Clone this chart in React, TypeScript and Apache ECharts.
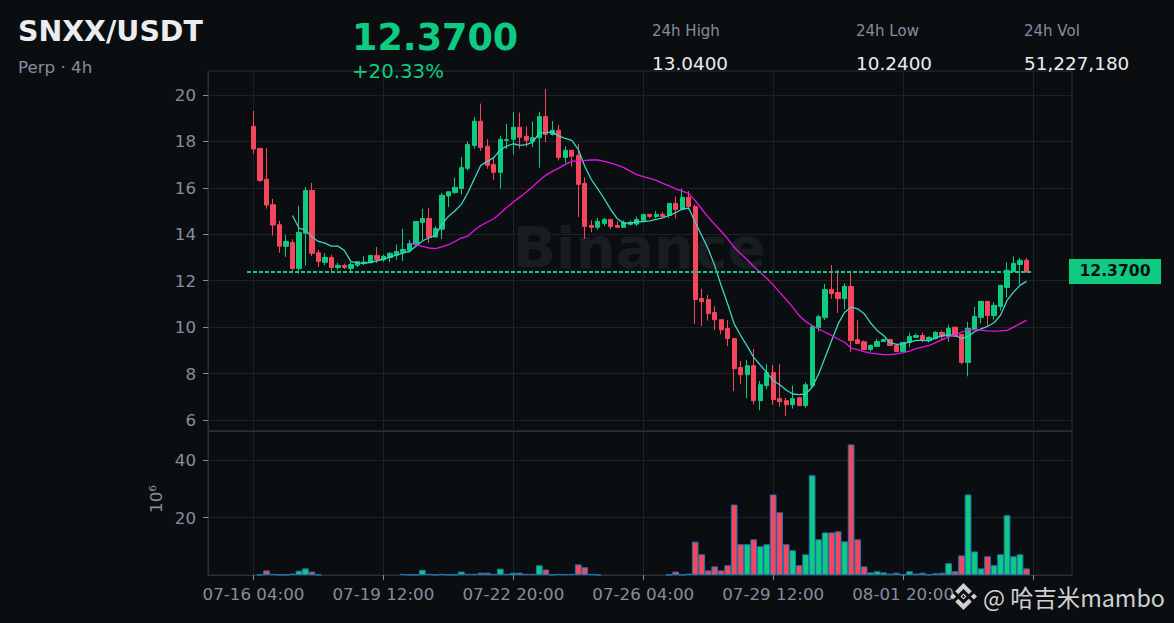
import React, { useEffect, useRef } from "react";
import * as echarts from "echarts";

const OPEN = [18.65,17.7,16.37,15.27,14.41,13.48,13.65,12.53,14.05,15.89,13.2,12.79,13.0,12.57,12.66,12.53,12.67,12.74,12.77,13.09,12.9,13.0,13.1,13.22,13.3,13.56,14.51,14.68,13.88,14.22,15.65,15.8,
15.97,16.84,17.83,18.87,17.79,17.01,16.67,18.05,18.09,18.61,18.22,18.0,18.16,19.07,18.3,18.48,17.31,17.62,17.4,16.19,14.38,14.3,14.47,14.64,14.38,14.3,14.43,14.44,14.6,14.86,14.77,14.86,14.81,15.33,15.07,15.59,
15.2,11.23,11.19,10.63,10.32,9.94,9.51,8.26,7.95,8.34,6.83,7.48,8.04,6.92,6.83,6.66,6.96,6.62,7.48,9.98,10.41,11.62,11.49,11.23,11.75,9.46,
9.37,9.04,9.17,9.38,9.47,9.21,8.95,9.34,9.56,9.64,9.43,9.51,9.77,9.6,10.0,9.69,8.48,9.9,10.42,11.11,10.5,10.89,11.71,12.4,12.7,12.88];
const CLOSE = [17.67,16.32,15.26,14.4,13.49,13.69,12.53,14.08,15.89,13.18,12.83,13.0,12.57,12.66,12.57,12.7,12.82,12.8,13.09,12.92,13.05,13.18,13.26,13.35,13.6,14.55,14.68,13.87,14.25,15.68,15.83,16.02,
16.87,17.87,18.87,17.74,16.97,16.67,18.09,18.08,18.61,18.18,18.05,18.16,19.07,18.3,18.48,17.31,17.62,17.36,16.15,14.34,14.3,14.56,14.64,14.34,14.3,14.51,14.51,14.64,14.86,14.77,14.86,14.77,15.33,15.07,15.59,15.2,
11.19,11.1,10.58,10.32,9.89,9.51,8.21,7.95,8.34,6.83,7.52,8.04,6.88,6.79,6.66,6.92,6.62,7.52,10.02,10.45,11.62,11.45,11.23,11.75,9.42,9.29,
9.04,9.21,9.38,9.47,9.21,8.95,9.34,9.6,9.64,9.43,9.56,9.77,9.6,9.95,9.6,8.48,9.95,10.46,11.11,10.5,10.94,11.8,12.45,12.75,12.88,12.37];
const LOW = [17.47,16.26,15.1,13.94,13.2,13.03,12.37,12.3,12.64,13.06,12.6,12.67,12.4,12.47,12.5,12.36,12.58,12.67,12.77,12.76,12.82,12.8,12.9,12.85,13.2,13.52,13.74,13.63,13.88,13.8,15.17,15.73,
15.72,16.75,17.69,17.59,16.82,16.35,15.96,17.67,17.43,17.69,17.77,17.76,16.87,17.97,18.25,17.18,17.07,16.91,14.74,13.81,14.09,14.2,14.35,14.22,14.3,14.3,14.38,14.35,14.58,14.68,14.68,14.74,14.71,14.68,15.03,15.07,
10.14,10.04,10.28,9.87,9.69,9.18,7.24,7.54,6.94,6.68,6.42,7.34,6.66,6.57,6.17,6.49,6.62,6.53,7.41,9.81,10.31,11.22,10.61,10.78,8.93,9.28,
9.03,8.95,9.17,9.36,9.21,8.95,8.95,9.14,9.53,9.34,9.34,9.47,9.47,9.37,9.57,8.39,7.88,9.9,10.16,10.07,10.32,10.72,11.28,12.36,11.84,12.37];
const HIGH = [19.31,17.7,17.72,15.53,14.58,13.98,13.79,15.23,16.03,16.21,13.33,13.19,13.12,12.77,12.74,12.8,12.85,13.06,13.09,13.45,13.13,13.23,13.56,14.24,13.76,14.55,15.1,15.14,14.35,15.78,15.83,16.44,
17.33,18.0,19.05,19.63,18.1,17.33,18.23,18.75,19.27,19.24,18.65,18.86,19.27,20.26,18.88,18.72,17.79,17.62,17.9,16.44,14.6,14.71,14.71,14.64,14.56,14.6,14.6,14.77,14.86,14.86,15.0,14.97,15.33,15.62,15.96,15.86,
15.29,11.65,11.39,10.9,10.32,10.31,9.51,8.54,8.58,9.06,7.68,8.41,8.37,8.41,6.95,7.48,6.96,7.62,10.14,10.53,11.86,12.68,12.47,11.89,12.44,10.31,
9.43,9.26,9.49,9.5,9.5,9.26,9.34,9.76,9.72,9.76,9.6,9.83,9.86,10.1,10.0,9.69,10.23,10.88,11.11,11.11,11.09,11.8,12.79,13.05,12.98,12.98];
const VOLUME = [null,0.1,1.6,0.4,0.1,0.1,0.5,1.5,2.3,1.2,0.1,
null,null,null,null,null,null,null,null,null,null,null,null,
0.4,0.1,0.1,1.8,0.4,0.1,0.4,0.1,0.1,1.2,0.4,0.4,0.8,0.8,0.4,2.2,0.4,0.8,0.8,0.4,0.4,3.4,1.9,0.1,0.4,0.3,0.4,3.7,2.7,0.4,0.1,
null,null,null,null,null,null,null,null,null,null,
0.1,1.2,0.1,0.5,11.6,7.2,1.6,3.0,1.6,3.4,24.5,10.7,10.7,12.4,10.0,10.7,28.0,21.8,10.7,8.6,3.4,7.2,34.7,12.4,14.8,14.8,15.2,11.7,45.4,12.4,3.0,0.9,1.3,0.9,0.5,0.8,0.2,1.3,0.5,0.8,0.2,0.6,0.8,4.1,1.3,6.8,28.0,8.2,2.3,6.5,3.4,7.2,20.8,6.5,7.2,2.3];
// Fast average: first value belongs to candle 6
const MA_FAST = [14.81,14.27,14.18,13.88,13.69,13.62,13.49,13.49,13.3,12.82,12.77,12.76,12.79,12.86,12.93,13.02,13.1,13.19,13.26,13.49,13.71,13.84,13.95,14.43,14.77,15.0,15.29,15.79,16.39,16.97,17.14,17.3,17.64,17.8,17.9,17.83,17.86,17.97,18.36,18.38,18.41,18.23,18.13,18.05,17.66,16.93,16.36,15.96,15.53,15.06,14.67,14.48,14.48,14.53,14.55,14.58,14.64,14.71,14.81,14.93,15.09,15.13,
14.52,13.95,13.37,12.65,11.79,11.0,10.14,9.64,9.18,8.7,8.37,8.05,7.7,7.52,7.29,7.12,7.09,7.12,7.41,7.98,8.7,9.42,10.14,10.64,10.86,10.79,10.58,10.18,9.86,9.64,9.33,9.26,9.28,9.36,9.43,9.43,9.41,9.54,9.63,9.67,9.64,9.51,9.6,9.8,9.93,10.03,10.19,10.51,11.15,11.51,11.8,11.97];
const MA_FAST_START = 6;
// Slow average: first value belongs to candle 24
const MA_SLOW = [13.63,13.56,13.48,13.41,13.38,13.46,13.55,13.69,13.84,13.92,14.17,14.38,14.53,14.67,14.91,15.16,15.39,15.6,15.82,16.06,16.32,16.54,16.71,16.85,17.01,17.14,17.17,17.18,17.2,17.2,17.14,17.07,16.98,16.87,16.72,16.57,16.48,16.41,16.32,16.19,16.09,15.96,15.86,15.75,
15.45,15.09,14.74,14.42,14.13,13.8,13.44,13.16,12.9,12.61,12.36,12.11,11.82,11.5,11.19,10.86,10.5,10.24,10.07,9.92,9.78,9.64,9.49,9.35,9.1,9.03,8.95,8.88,8.85,8.82,8.82,8.85,8.9,8.97,9.07,9.14,9.21,9.33,9.46,9.57,9.67,9.79,9.87,9.89,9.87,9.84,9.83,9.84,9.86,10.0,10.15,10.29];
const MA_SLOW_START = 24;

const TICK_LABELS = ["07-16 04:00", "07-19 12:00", "07-22 20:00", "07-26 04:00", "07-29 12:00", "08-01 20:00", ""];
const PRICE_TICKS = [6, 8, 10, 12, 14, 16, 18, 20];
const VOLUME_TICKS = [20, 40];
const LAST_PRICE = 12.37;
const SYMBOL = "SNXX/USDT";
const SUBTITLE = "Perp · 4h";
const PRICE_TEXT = "12.3700";
const CHANGE_TEXT = "+20.33%";
const STATS = [["24h High", "13.0400"], ["24h Low", "10.2400"], ["24h Vol", "51,227,180"]];
const WATERMARK = "Binance";
const CREDIT = "@ 哈吉米mambo";

const PAD = 7; // empty candle slots on either side
const TICK_EVERY = 20;
const SLOTS = 134;
const isTick = (i: number) => (i - PAD) % TICK_EVERY === 0 && i >= PAD && (i - PAD) / TICK_EVERY < TICK_LABELS.length;
const CATEGORIES = Array.from({ length: SLOTS }, (_, i) => (isTick(i) ? TICK_LABELS[(i - PAD) / TICK_EVERY] : `c${i}`));

const LOGO_PATH =
  "M38.73 53.2l24.59-24.58 24.6 24.6 14.3-14.31L63.32 0 24.42 38.9zM0 63.31l14.3-14.31 14.31 14.31-14.31 14.3zM38.73 73.41l24.59 24.59 24.6-24.6 14.31 14.29-38.9 38.91-38.91-38.88-.02-.02zM98.02 63.31l14.3-14.31 14.31 14.3-14.31 14.32zM77.83 63.3L63.32 48.78 48.81 63.28l14.51 14.5zM63.32 70L56.6 63.28 63.32 56.6 70 63.3z";
echarts.graphic.registerShape("binanceMark", echarts.graphic.extendPath(LOGO_PATH, {}) as any);

const UP = "#0ecb81";
const DOWN = "#f6465d";
const FONT = '"DejaVu Sans", sans-serif';
const GRID_LINE = "#1e2228";
const BORDER = "#2b2f36";
const TICK = "#848e9c";

export default function App() {
  const ref = useRef<HTMLDivElement>(null);
  useEffect(() => {
    const chart = echarts.init(ref.current!, undefined, { renderer: "svg" });

    const candles = OPEN.map((o, i) => [i + PAD, o, CLOSE[i], LOW[i], HIGH[i]]);
    const volumes = VOLUME.map((v, i) =>
      v == null
        ? null
        : { value: [i + PAD, v], itemStyle: { color: CLOSE[i] >= OPEN[i] ? UP : DOWN } }
    ).filter(Boolean);
    const fast = MA_FAST.map((v, i) => [i + MA_FAST_START + PAD, v]);
    const slow = MA_SLOW.map((v, i) => [i + MA_SLOW_START + PAD, v]);

    const txt = (text: string, x: number, y: number, fill: string, font: string, extra: any = {}, el: any = {}) => ({
      type: "text",
      x,
      y,
      z: 10,
      silent: true,
      style: { text, fill, font, textVerticalAlign: "middle", ...extra },
      ...el,
    });

    const xBase = {
      type: "category",
      data: CATEGORIES,
      boundaryGap: false,
      axisLine: { lineStyle: { color: BORDER } },
      splitLine: { show: true, interval: (i: number) => isTick(i), lineStyle: { color: GRID_LINE, width: 1 } },
    };

    chart.setOption({
      animation: false,
      backgroundColor: "#0b0e11",
      grid: [
        { left: 208, top: 71, width: 864, height: 360, show: true, borderColor: BORDER, borderWidth: 1, backgroundColor: "transparent" },
        { left: 208, top: 431, width: 864, height: 144, show: true, borderColor: BORDER, borderWidth: 1, backgroundColor: "transparent" },
      ],
      xAxis: [
        { ...xBase, gridIndex: 0, axisTick: { show: false }, axisLabel: { show: false } },
        {
          ...xBase,
          gridIndex: 1,
          axisTick: { show: true, interval: (i: number) => isTick(i), length: 5, lineStyle: { color: TICK } },
          axisLabel: {
            show: true,
            interval: (i: number) => isTick(i),
            color: TICK,
            fontFamily: FONT,
            fontSize: 16.7,
            margin: 10,
            hideOverlap: false,
          },
        },
      ],
      yAxis: [
        {
          type: "value",
          gridIndex: 0,
          min: 5.526,
          max: 21.034,
          axisLine: { show: true, lineStyle: { color: BORDER } },
          axisTick: { show: true, length: 5, lineStyle: { color: TICK }, customValues: PRICE_TICKS },
          axisLabel: { color: TICK, fontFamily: FONT, fontSize: 16.7, margin: 12, customValues: PRICE_TICKS },
          splitLine: { show: true, lineStyle: { color: GRID_LINE, width: 1 } },
        },
        {
          type: "value",
          gridIndex: 1,
          min: 0,
          max: 50.09,
          axisLine: { show: true, lineStyle: { color: BORDER } },
          axisTick: { show: true, length: 5, lineStyle: { color: TICK }, customValues: VOLUME_TICKS },
          axisLabel: { color: TICK, fontFamily: FONT, fontSize: 16.7, margin: 12, customValues: VOLUME_TICKS },
          splitLine: { show: true, lineStyle: { color: GRID_LINE, width: 1 } },
        },
      ],
      series: [
        {
          type: "candlestick",
          xAxisIndex: 0,
          yAxisIndex: 0,
          data: candles,
          encode: { x: 0, y: [1, 2, 3, 4] },
          barWidth: 4.8,
          itemStyle: { color: UP, color0: DOWN, borderColor: UP, borderColor0: DOWN, borderWidth: 1 },
          silent: true,
          z: 3,
        },
        {
          type: "line",
          xAxisIndex: 0,
          yAxisIndex: 0,
          data: fast,
          showSymbol: false,
          symbol: "none",
          silent: true,
          lineStyle: { color: "#3fd4c4", width: 1.3 },
          z: 4,
        },
        {
          type: "line",
          xAxisIndex: 0,
          yAxisIndex: 0,
          data: slow,
          showSymbol: false,
          symbol: "none",
          silent: true,
          lineStyle: { color: "#e812e8", width: 1.3 },
          z: 4,
          markLine: {
            silent: true,
            symbol: "none",
            label: { show: false },
            animation: false,
            lineStyle: { color: UP, type: [4, 2], width: 1.8 },
            data: [[{ coord: [PAD - 1, LAST_PRICE] }, { coord: [PAD + 120, LAST_PRICE] }]],
          },
        },
        {
          type: "bar",
          xAxisIndex: 1,
          yAxisIndex: 1,
          data: volumes,
          barWidth: 6.7,
          silent: true,
          itemStyle: { borderColor: "#1f77b4", borderWidth: 1 },
        },
      ],
    });

    const tagY = chart.convertToPixel({ yAxisIndex: 0 }, LAST_PRICE) as number;
    const statX = [652, 856, 1024];
    chart.setOption({
      graphic: [
        { ...txt(WATERMARK, 513, 248, "#191c20", `bold 56.5px ${FONT}`), z: 0 },
        txt(SYMBOL, 18, 31, "#eaecef", `bold 28.4px ${FONT}`),
        txt(SUBTITLE, 18, 67, "#848e9c", `16.7px ${FONT}`),
        txt(PRICE_TEXT, 352, 37, UP, `bold 36.5px ${FONT}`),
        txt(CHANGE_TEXT, 352, 71, UP, `19.8px ${FONT}`),
        ...STATS.flatMap(([label, value], i) => [
          txt(label, statX[i], 31, "#848e9c", `15px ${FONT}`),
          txt(value, statX[i], 63, "#eaecef", `18.4px ${FONT}`),
        ]),
        txt("10⁶", 156, 499, "#848e9c", `16.7px ${FONT}`, { textAlign: "center" }, { rotation: Math.PI / 2 }),
        {
          type: "rect",
          z: 10,
          shape: { x: 1069, y: tagY - 13, width: 92, height: 25 },
          style: { fill: UP },
          silent: true,
        },
        txt(PRICE_TEXT, 1115, tagY - 1, "#0b0e11", `bold 15.6px ${FONT}`, { textAlign: "center" }),
        {
          type: "binanceMark",
          z: 11,
          x: 950,
          y: 583,
          scaleX: 27 / 126.61,
          scaleY: 27 / 126.61,
          style: { fill: "#d0d0d0" },
          silent: true,
        },
        txt(CREDIT, 983, 597, "#d0d0d0", `23.3px "Noto Sans CJK SC"`),
      ],
    });
    return () => chart.dispose();
  }, []);
  return <div ref={ref} style={{ position: "fixed", left: 0, top: 0, width: 1174, height: 623 }} />;
}
